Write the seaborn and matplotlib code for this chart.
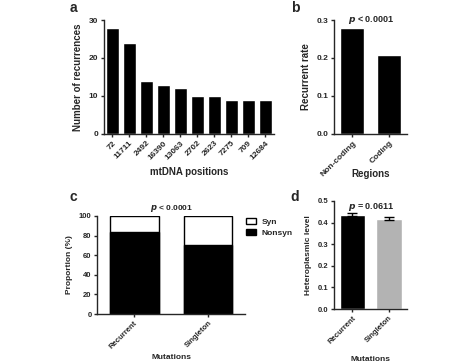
"""Four-panel figure: mtDNA recurrence summaries."""

import matplotlib

matplotlib.use("Agg")
import matplotlib.pyplot as plt
import numpy as np
import pandas as pd
import seaborn as sns
from matplotlib.patches import Patch

# ---- data --------------------------------------------------------------------

positions = ["72", "11711", "2492", "16390", "13063", "2702", "2623", "7275", "709", "12684"]
recurrences = [28, 24, 14, 13, 12, 10, 10, 9, 9, 9]

regions = ["Non-coding", "Coding"]
recurrent_rate = [0.28, 0.207]

mutation_groups = ["Recurrent", "Singleton"]
nonsyn_pct = [84, 70]
total_pct = [100, 100]

hetero_level = [0.436, 0.417]
hetero_err = [0.007, 0.007]

# ---- style -------------------------------------------------------------------

sns.set_theme(style="ticks")
plt.rcParams["font.family"] = ["Liberation Sans", "DejaVu Sans"]
plt.rcParams["font.weight"] = "bold"
plt.rcParams["axes.labelweight"] = "bold"
plt.rcParams["axes.linewidth"] = 1.0
plt.rcParams["xtick.major.size"] = 2.5
plt.rcParams["ytick.major.size"] = 2.5
plt.rcParams["xtick.major.width"] = 1.0
plt.rcParams["ytick.major.width"] = 1.0
plt.rcParams["xtick.major.pad"] = 1.5
plt.rcParams["ytick.major.pad"] = 1.5

fig = plt.figure(figsize=(4.74, 3.64), dpi=100)
ax_a = fig.add_axes([0.219, 0.632, 0.359, 0.313])
ax_b = fig.add_axes([0.705, 0.632, 0.154, 0.313])
ax_c = fig.add_axes([0.205, 0.137, 0.312, 0.270])
ax_d = fig.add_axes([0.705, 0.151, 0.154, 0.297])


def finish(ax, xlabel, ylabel, tick_fs, label_fs, xlabel_y):
    sns.despine(ax=ax)
    ax.set_xlabel(xlabel, fontsize=label_fs)
    ax.set_ylabel(ylabel, fontsize=label_fs)
    ax.xaxis.set_label_coords(0.5, xlabel_y)
    ax.xaxis.label.set_va("center")
    ax.tick_params(axis="both", labelsize=tick_fs)
    for lab in ax.get_xticklabels():
        lab.set_rotation(45)
        lab.set_ha("right")
        lab.set_rotation_mode("anchor")


def p_text(ax, x, y, rel, value, fs):
    ax.text(x, y, r"$\bf{\it{p}}$ " + rel + " " + value, ha="center", va="center",
            fontsize=fs, fontweight="bold")


# ---- a -----------------------------------------------------------------------
df_a = pd.DataFrame({"pos": positions, "n": recurrences})
sns.barplot(data=df_a, x="pos", y="n", color="black", width=0.75, saturation=1, ax=ax_a)
ax_a.set_ylim(0, 30)
ax_a.set_yticks([0, 10, 20, 30])
ax_a.set_xlim(-0.5, len(positions) - 0.5)
finish(ax_a, "mtDNA positions", "Number of recurrences", 6, 7, -0.33)

# ---- b -----------------------------------------------------------------------
df_b = pd.DataFrame({"region": regions, "rate": recurrent_rate})
sns.barplot(data=df_b, x="region", y="rate", color="black", width=0.66, saturation=1, ax=ax_b)
ax_b.set_ylim(0, 0.3)
ax_b.set_yticks([0, 0.1, 0.2, 0.3])
ax_b.set_xlim(-0.5, 1.5)
p_text(ax_b, 0.5, 0.3, "<", "0.0001", 6.5)
finish(ax_b, "Regions", "Recurrent rate", 6, 7, -0.35)

# ---- c -----------------------------------------------------------------------
df_c = pd.DataFrame({"grp": mutation_groups, "total": total_pct, "nonsyn": nonsyn_pct})
sns.barplot(data=df_c, x="grp", y="total", color="white", edgecolor="black",
            linewidth=1.0, width=0.66, saturation=1, ax=ax_c)
sns.barplot(data=df_c, x="grp", y="nonsyn", color="black", edgecolor="black",
            linewidth=1.0, width=0.66, saturation=1, ax=ax_c)
ax_c.set_ylim(0, 100)
ax_c.set_yticks([0, 20, 40, 60, 80, 100])
ax_c.set_xlim(-0.5, 1.5)
p_text(ax_c, 0.5, 107, "<", "0.0001", 6)
ax_c.legend(handles=[Patch(facecolor="white", edgecolor="black", label="Syn"),
                     Patch(facecolor="black", edgecolor="black", label="Nonsyn")],
            loc="upper left", bbox_to_anchor=(0.97, 1.03), frameon=False,
            fontsize=6, handlelength=1.3, handleheight=0.7,
            labelspacing=0.4, handletextpad=0.6, borderaxespad=0.2)
finish(ax_c, "Mutations", "Proportion (%)", 5.5, 6, -0.44)

# ---- d -----------------------------------------------------------------------
df_d = pd.DataFrame({"grp": mutation_groups, "level": hetero_level})
sns.barplot(data=df_d, x="grp", y="level", hue="grp",
            palette=["black", "#b3b3b3"], width=0.7, saturation=1,
            legend=False, ax=ax_d)
ax_d.errorbar(x=np.arange(len(mutation_groups)), y=hetero_level, yerr=hetero_err,
              fmt="none", ecolor="black", elinewidth=1.0, capsize=3.5, capthick=1.0)
ax_d.set_ylim(0, 0.5)
ax_d.set_yticks([0, 0.1, 0.2, 0.3, 0.4, 0.5])
ax_d.set_xlim(-0.5, 1.5)
p_text(ax_d, 0.5, 0.47, "=", "0.0611", 6.5)
finish(ax_d, "Mutations", "Heteroplasmic level", 5.5, 6, -0.47)

# ---- panel letters -----------------------------------------------------------
for letter, x, y in [("a", 0.154, 0.978), ("b", 0.622, 0.978),
                     ("c", 0.154, 0.459), ("d", 0.622, 0.459)]:
    fig.text(x, y, letter, ha="center", va="center", fontsize=10, fontweight="bold")

fig.savefig("out.png", dpi=100)
